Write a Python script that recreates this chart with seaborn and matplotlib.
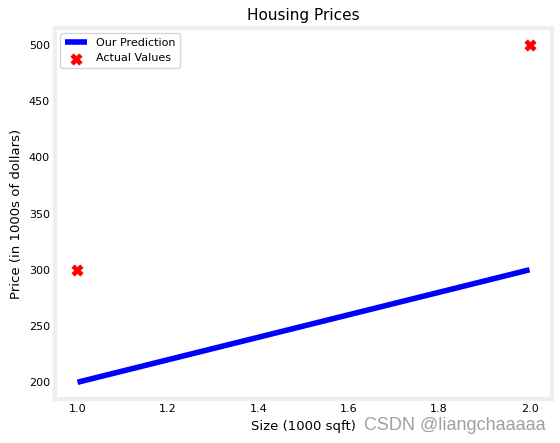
import numpy as np
import pandas as pd
import seaborn as sns
import matplotlib
matplotlib.use("Agg")
import matplotlib.pyplot as plt

# data
x_train = [1.0, 2.0]
y_train = [300, 500]
y_pred = [200, 300]

sns.set_style("white")
plt.rcParams["text.color"] = "black"
plt.rcParams["axes.labelcolor"] = "black"
plt.rcParams["xtick.color"] = "black"
plt.rcParams["ytick.color"] = "black"

fig = plt.figure(figsize=(5.6, 4.43), dpi=100)
ax = fig.add_axes([0.098, 0.099, 0.888, 0.838])

sns.lineplot(x=x_train, y=y_pred, ax=ax, color="blue", linewidth=4,
             solid_capstyle="butt", label="Our Prediction")
sns.scatterplot(x=x_train, y=y_train, ax=ax, marker="X", color="red", s=65,
                edgecolor="red", linewidth=0.5, label="Actual Values", zorder=3)

ax.set_title("Housing Prices", fontsize=11)
ax.set_xlabel("Size (1000 sqft)", fontsize=9.5)
ax.set_ylabel("Price (in 1000s of dollars)", fontsize=9.5)
ax.tick_params(labelsize=8, length=0)
ax.margins(0.05)

for sp in ax.spines.values():
    sp.set_color("#efefef")
    sp.set_linewidth(3)

ax.legend(loc="upper left", fontsize=8, frameon=True)

fig.text(0.975, 0.02, "CSDN @liangchaaaaa", ha="right", va="bottom",
         fontsize=13, color="#a0a0a0", family="Liberation Sans")

fig.savefig("out.png", dpi=100)
